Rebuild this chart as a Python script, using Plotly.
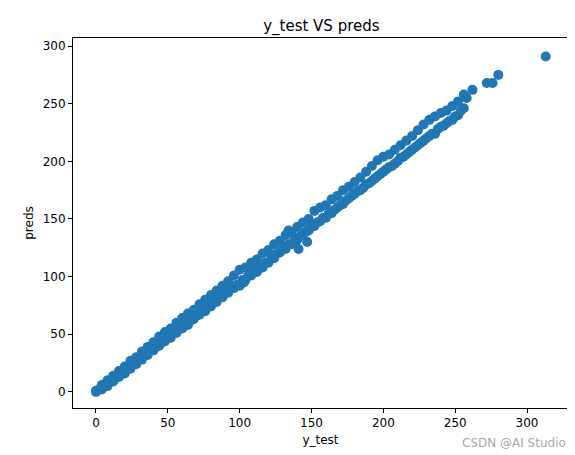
import plotly.graph_objects as go

x_grid = [0,4,8,12,16,20,24,28,32,36,40,44,48,52,56,60,64,68,72,76,80,84,88,92,96,100,104,108,112,116,120,124,128,132,136,140,144,148,152,156,160,164,168,172,176,180,184,188,192,196,200,204,208,212,216,220,224,228,232,236,240,244,248,252,256]
preds_upper = [1,6,10,14,18,22,27,30,35,39,43,48,52,55,60,64,68,71,76,80,84,88,92,96,101,106,108,112,115,120,123,128,131,136,138,143,147,150,157,160,162,167,170,175,178,182,186,191,196,201,204,206,210,214,218,222,227,232,236,239,242,244,248,252,258]
preds_lower = [0,2,5,9,13,16,20,24,28,32,36,40,44,47,51,55,58,63,67,70,74,78,82,86,90,92,97,101,104,108,112,116,121,124,128,132,136,140,144,148,151,155,160,163,168,172,175,180,183,187,191,195,198,203,206,210,214,218,222,224,230,233,236,240,246]
x_mid = [2,6,10,14,18,22,26,30,34,38,42,46,50,54,58,62,66,70,74,78,82,86,90,94,98,102,106,110,114,118,122,126,130,134,138,142,146,150,154,158,162,166,170,174,178,182,186,190,194,198,202,206,210,214,218,222,226,230,234,238,242,246,250,254]
preds_mid = [2,5,9,13,16,20,24,28,32,36,39,43,47,51,55,59,62,66,70,74,78,82,86,90,93,97,101,105,108,112,116,120,124,128,131,135,139,143,147,151,155,158,162,166,170,174,177,181,185,189,193,196,200,204,208,212,216,220,224,228,231,235,239,244]
x_extra = [258,262,272,276,280,313,141,147,103,134]
preds_extra = [255,262,268,268,275,291,124,130,95,140]

xs = x_grid + x_grid + x_mid + x_extra
ys = preds_upper + preds_lower + preds_mid + preds_extra

fig = go.Figure(go.Scatter(x=xs, y=ys, mode="markers",
    marker=dict(color="#1f77b4", size=10, line=dict(width=0))))
ax = dict(showgrid=False, zeroline=False, showline=True, linecolor="black", mirror=True,
          ticks="outside", ticklen=4, tickcolor="black", tickfont=dict(size=12, color="black"),
          automargin=False)
fig.update_layout(
    width=575, height=455, margin=dict(l=65, r=15, t=30, b=55),
    plot_bgcolor="white", paper_bgcolor="white", showlegend=False,
    font=dict(family="DejaVu Sans", color="black"),
    title=dict(text="y_test VS preds", x=0.545, xanchor="center", yref="container",
               y=1 - 18/455, yanchor="middle", font=dict(size=15)),
    xaxis=dict(ax, range=[-16, 328.5], tickvals=[0,50,100,150,200,250,300],
               title=dict(text="y_test", font=dict(size=12), standoff=6)),
    yaxis=dict(ax, range=[-14, 307], tickvals=[0,50,100,150,200,250,300],
               title=dict(text="preds", font=dict(size=12), standoff=6)),
    annotations=[dict(text="CSDN @AI Studio", xref="paper", yref="paper", x=1.0, y=-0.12,
                      xanchor="right", showarrow=False, font=dict(size=12, color="#aaaaaa"))]
)
fig.write_html("out.html")
